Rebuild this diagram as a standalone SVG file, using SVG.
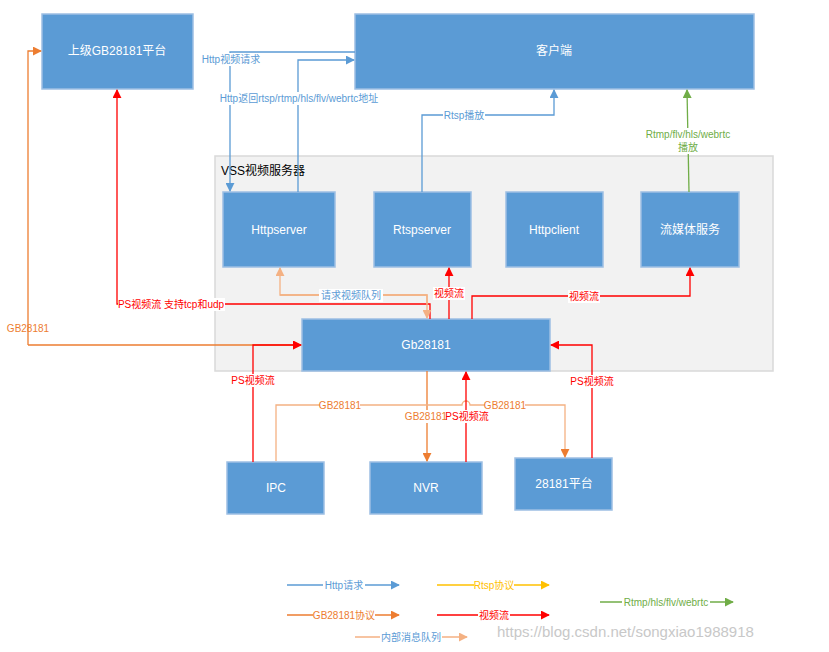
<svg xmlns="http://www.w3.org/2000/svg" width="829" height="652" viewBox="0 0 829 652">
<style>
.box{fill:#5b9bd5;stroke:#9dbfe3;stroke-width:1.5}
.bt{fill:#fff;font-family:"Liberation Sans","Noto Sans CJK SC",sans-serif;font-size:12px;text-anchor:middle;dominant-baseline:central}
.l{fill:none;stroke-width:1.3}
.lb{font-family:"Liberation Sans","Noto Sans CJK SC",sans-serif;font-size:10px;text-anchor:middle;dominant-baseline:central}
.blue{stroke:#5b9bd5}.org{stroke:#ed7d31}.lor{stroke:#f4b183}.red{stroke:#ff0000}.grn{stroke:#70ad47}.yel{stroke:#ffc000}
.bg{fill:#fff}
</style>
<defs>
<marker id="ab" viewBox="0 0 10 10" refX="9" refY="5" markerWidth="9" markerHeight="9" markerUnits="userSpaceOnUse" orient="auto"><path d="M0,0L10,5L0,10z" fill="#5b9bd5"/></marker>
<marker id="ao" viewBox="0 0 10 10" refX="9" refY="5" markerWidth="9" markerHeight="9" markerUnits="userSpaceOnUse" orient="auto"><path d="M0,0L10,5L0,10z" fill="#ed7d31"/></marker>
<marker id="al" viewBox="0 0 10 10" refX="9" refY="5" markerWidth="9" markerHeight="9" markerUnits="userSpaceOnUse" orient="auto"><path d="M0,0L10,5L0,10z" fill="#f4b183"/></marker>
<marker id="ar" viewBox="0 0 10 10" refX="9" refY="5" markerWidth="9" markerHeight="9" markerUnits="userSpaceOnUse" orient="auto"><path d="M0,0L10,5L0,10z" fill="#ff0000"/></marker>
<marker id="ag" viewBox="0 0 10 10" refX="9" refY="5" markerWidth="9" markerHeight="9" markerUnits="userSpaceOnUse" orient="auto"><path d="M0,0L10,5L0,10z" fill="#70ad47"/></marker>
<marker id="ay" viewBox="0 0 10 10" refX="9" refY="5" markerWidth="9" markerHeight="9" markerUnits="userSpaceOnUse" orient="auto"><path d="M0,0L10,5L0,10z" fill="#ffc000"/></marker>
</defs>
<rect width="829" height="652" fill="#fff"/>
<g id="vss">
<rect x="215" y="156" width="558" height="215" fill="#f2f2f2" stroke="#d9d9d9" stroke-width="1.5"/>
<text x="221" y="171" font-family="Liberation Sans,Noto Sans CJK SC,sans-serif" font-size="12" fill="#000" dominant-baseline="central">VSS视频服务器</text>
</g>
<g id="upper"><rect class="box" x="42" y="14" width="151" height="75"/><text class="bt" x="117" y="51">上级GB28181平台</text></g>
<g id="client"><rect class="box" x="355" y="14" width="399" height="75"/><text class="bt" x="554" y="51">客户端</text></g>
<g id="httpserver"><rect class="box" x="223" y="192" width="112" height="75"/><text class="bt" x="279" y="230">Httpserver</text></g>
<g id="rtspserver"><rect class="box" x="374" y="192" width="97" height="75"/><text class="bt" x="422" y="230">Rtspserver</text></g>
<g id="httpclient"><rect class="box" x="506" y="192" width="97" height="75"/><text class="bt" x="554" y="230">Httpclient</text></g>
<g id="media"><rect class="box" x="641" y="192" width="98" height="75"/><text class="bt" x="690" y="230">流媒体服务</text></g>
<g id="gb"><rect class="box" x="302" y="319" width="248" height="52"/><text class="bt" x="426" y="345">Gb28181</text></g>
<g id="ipc"><rect class="box" x="227" y="462" width="97" height="52"/><text class="bt" x="276" y="488">IPC</text></g>
<g id="nvr"><rect class="box" x="370" y="462" width="112" height="52"/><text class="bt" x="426" y="488">NVR</text></g>
<g id="plat"><rect class="box" x="515" y="458" width="97" height="52"/><text class="bt" x="564" y="484">28181平台</text></g>
<g id="connectors">
<path class="l blue" d="M355,52H230V191" marker-end="url(#ab)"/>
<path class="l blue" d="M298,192V60H354" marker-end="url(#ab)"/>
<path class="l blue" d="M422,192V115H554V90" marker-end="url(#ab)"/>
<path class="l grn" d="M689,192L687,90" marker-end="url(#ag)"/>
<path class="l org" d="M28,345V51H41" marker-end="url(#ao)"/>
<path class="l org" d="M28,345H301" marker-end="url(#ao)"/>
<path class="l red" d="M253,462V345H301" marker-end="url(#ar)"/>
<path class="l red" d="M430,319V304H117V90" marker-end="url(#ar)"/>
<path class="l lor" d="M427,304V295H280V268" marker-end="url(#al)"/>
<path class="l lor" d="M280,295H427V318" marker-end="url(#al)"/>
<path class="l red" d="M449,319V268" marker-end="url(#ar)"/>
<path class="l red" d="M472,319V296H690V268" marker-end="url(#ar)"/>
<path class="l org" d="M427,371V461" marker-end="url(#ao)"/>
<path class="l lor" d="M276,461V405H462a4,4 0 0 1 8,0H565V457" marker-end="url(#ao)"/>
<path class="l red" d="M466,462V372" marker-end="url(#ar)"/>
<path class="l red" d="M592,458V345H551" marker-end="url(#ar)"/>
<rect class="bg" x="199" y="53" width="64" height="13"/><text class="lb" x="231" y="59" fill="#5b9bd5">Http视频请求</text>
<rect class="bg" x="214" y="92" width="170" height="13"/><text class="lb" x="299" y="98" fill="#5b9bd5">Http返回rtsp/rtmp/hls/flv/webrtc地址</text>
<rect class="bg" x="443" y="109" width="42" height="13"/><text class="lb" x="464" y="115" fill="#5b9bd5">Rtsp播放</text>
<rect class="bg" x="644" y="128" width="90" height="26"/><text class="lb" x="688" y="134" fill="#70ad47">Rtmp/flv/hls/webrtc</text><text class="lb" x="688" y="147" fill="#70ad47">播放</text>
<text class="lb" x="28" y="328" fill="#ed7d31">GB28181</text>
<rect class="bg" x="118" y="298" width="107" height="13"/><text class="lb" x="171" y="304" fill="#ff0000">PS视频流 支持tcp和udp</text>
<rect class="bg" x="319" y="289" width="64" height="13"/><text class="lb" x="351" y="295" fill="#5b9bd5">请求视频队列</text>
<rect class="bg" x="433" y="287" width="32" height="13"/><text class="lb" x="449" y="293" fill="#ff0000">视频流</text>
<rect class="bg" x="568" y="290" width="32" height="13"/><text class="lb" x="584" y="296" fill="#ff0000">视频流</text>
<rect class="bg" x="232" y="374" width="42" height="13"/><text class="lb" x="253" y="380" fill="#ff0000">PS视频流</text>
<rect class="bg" x="571" y="375" width="42" height="13"/><text class="lb" x="592" y="381" fill="#ff0000">PS视频流</text>
<rect class="bg" x="320" y="399" width="40" height="13"/><text class="lb" x="340" y="405" fill="#ed7d31">GB28181</text>
<rect class="bg" x="485" y="399" width="40" height="13"/><text class="lb" x="505" y="405" fill="#ed7d31">GB28181</text>
<rect class="bg" x="407" y="410" width="81" height="13"/><text class="lb" x="426" y="416" fill="#ed7d31">GB28181</text><text class="lb" x="467" y="416" fill="#ff0000">PS视频流</text>
</g>
<g id="legend">
<path class="l blue" d="M287,585H399" marker-end="url(#ab)"/><rect class="bg" x="323" y="579" width="42" height="12"/><text class="lb" x="344" y="585" fill="#5b9bd5">Http请求</text>
<path class="l yel" d="M437,585H549" marker-end="url(#ay)"/><rect class="bg" x="474" y="579" width="40" height="12"/><text class="lb" x="494" y="585" fill="#ffc000">Rtsp协议</text>
<path class="l org" d="M287,615H399" marker-end="url(#ao)"/><rect class="bg" x="313" y="609" width="62" height="12"/><text class="lb" x="344" y="615" fill="#ed7d31">GB28181协议</text>
<path class="l red" d="M437,615H549" marker-end="url(#ar)"/><rect class="bg" x="478" y="609" width="32" height="12"/><text class="lb" x="494" y="615" fill="#ff0000">视频流</text>
<path class="l grn" d="M600,602H733" marker-end="url(#ag)"/><rect class="bg" x="622" y="596" width="88" height="12"/><text class="lb" x="666" y="602" fill="#70ad47">Rtmp/hls/flv/webrtc</text>
<path class="l lor" d="M355,637H467" marker-end="url(#al)"/><rect class="bg" x="380" y="631" width="62" height="12"/><text class="lb" x="411" y="637" fill="#5b9bd5">内部消息队列</text>
</g>
<text x="497" y="631" font-family="Liberation Sans,sans-serif" font-size="15" fill="#c8c8c8" dominant-baseline="central">https://blog.csdn.net/songxiao1988918</text>
</svg>
